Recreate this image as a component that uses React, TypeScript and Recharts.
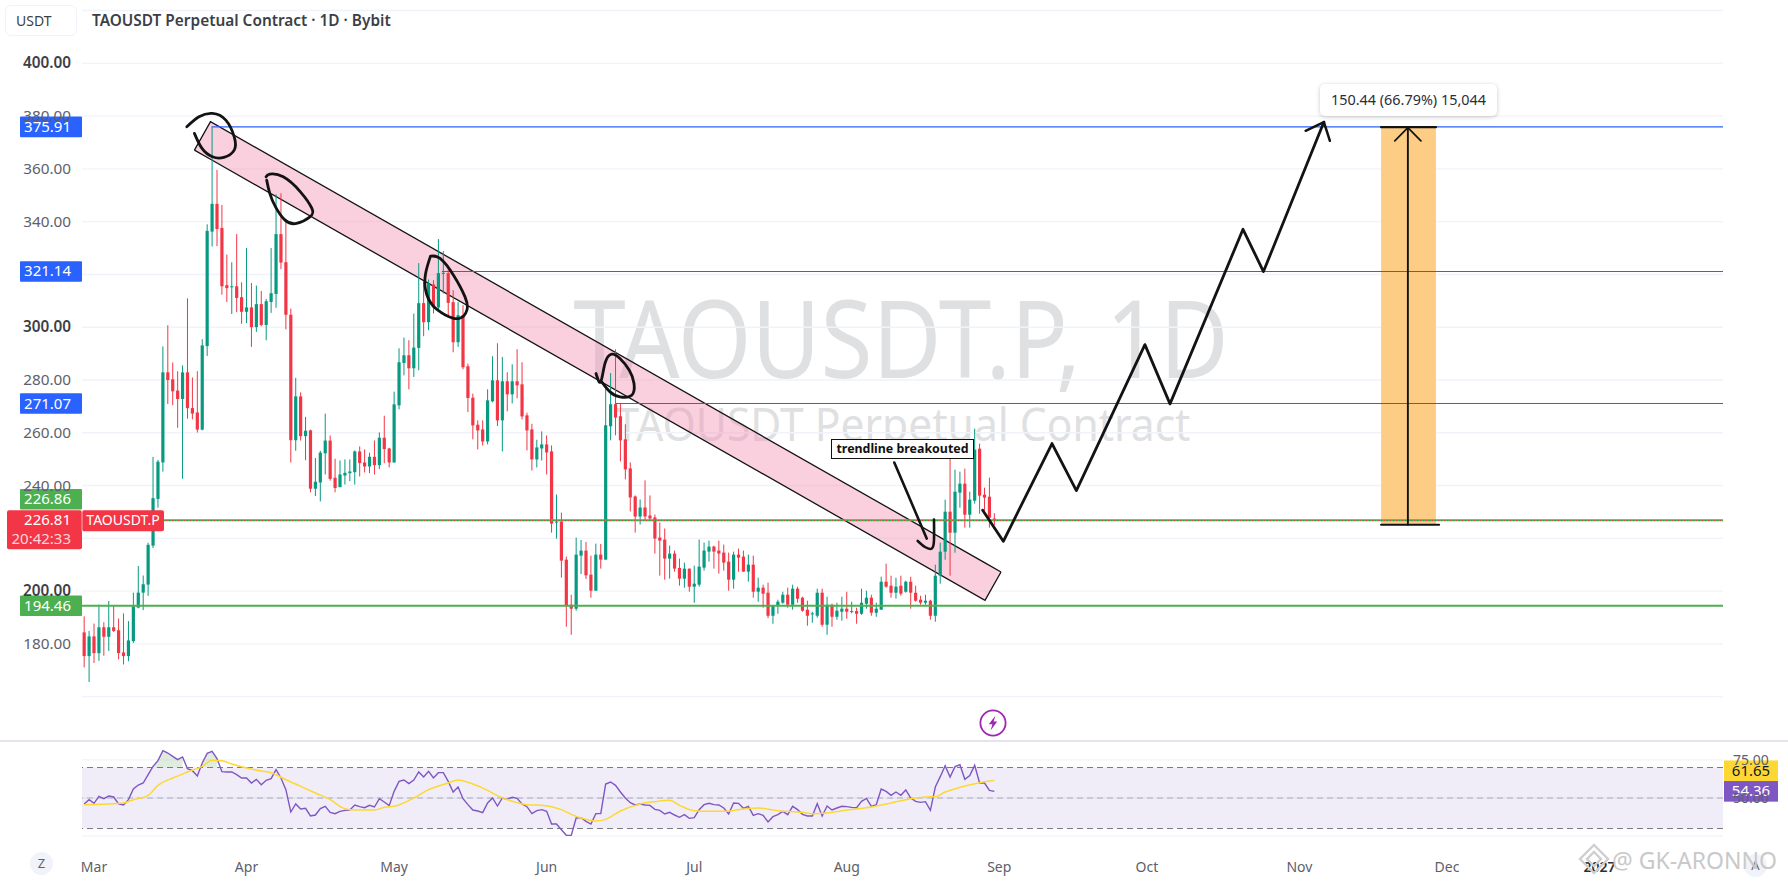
import React from "react";
import { ComposedChart, Bar, Line, Area, XAxis, YAxis, CartesianGrid, ReferenceLine, ReferenceArea } from "recharts";

const FONT = "'Noto Sans', sans-serif";
const UP = "#089981";
const DOWN = "#f23645";
const BLUE = "#2962ff";
const GREEN = "#4caf50";
const INK = "#131313";

const firstDay = -2; // candle 0 is two days before 1 March
const opens = [
  184.36,175.38,182.84,176.49,186.3,182.7,186.3,185.18,176.76,175.38,
  181.04,193.76,199.42,202.47,217.25,234.94,248.76,282.9,280.27,275.99,
  272.81,282.9,269.35,267.69,261.2,292.85,336.24,346.75,337.63,315.93,
  315.24,315.51,311.37,305.84,307.5,300.03,308.74,300.86,309.57,312.61,
  335.28,324.63,304.73,257.19,273.78,258.71,260.92,238.81,241.16,252.22,
  257.05,242.96,239.39,243.81,244.7,245.08,252.93,248.75,247.23,250.9,
  247.74,258.12,254.07,248.75,270.39,286.46,289.37,284.44,292.16,309.12,
  301.9,316.2,307.47,320.25,320.5,309.5,294.31,304.56,285.2,273.3,
  263.05,261.28,256.72,271.91,279.88,264.7,279.5,274.57,279.5,278.36,
  266.6,261.28,249.89,254.07,255.59,252.93,225.97,226.35,211.92,194.84,
  193.32,213.45,215.35,206.24,200.16,213.83,211.93,262.46,270.82,266.26,
  257.52,246.5,235.87,228.27,231.69,228.65,227.89,220.29,219.53,212.31,
  214.21,208.77,204.72,208.52,201.68,202.44,208.89,214.97,216.87,215.35,
  214.59,211.17,204.34,213.83,213.07,207.38,210.03,199.78,201.3,199.4,
  190.66,194.46,195.6,198.64,194.84,200.92,197.5,192.95,191.3,190.67,
  199.39,187.26,194.84,190.29,192.19,193.33,192.06,192.44,191.43,195.22,
  197.5,191.81,192.95,203.56,202.05,199.39,202.05,199.77,203.56,199.39,
  196.74,195.6,196.36,190.67,205.84,214.94,230.1,222.14,237.3,240.72,
  228.96,234.27,253.98,236.55,235.79,227.5,
];
const closes = [
  175.38,182.84,176.49,186.3,182.7,186.3,184.91,176.49,175.38,181.32,
  194.17,199.42,202.6,217.53,235.22,249.04,282.9,280.0,275.71,272.81,
  282.9,269.35,267.28,261.2,293.12,336.52,346.75,337.2,315.51,314.82,
  315.51,311.09,305.84,307.5,300.03,308.74,300.86,309.85,312.89,335.28,
  324.5,304.73,257.19,273.78,258.71,260.78,238.81,241.44,252.49,257.05,
  242.54,239.09,244.2,244.83,245.33,252.93,248.5,247.23,250.9,247.74,
  258.12,253.81,248.75,270.77,286.72,289.37,284.44,292.28,309.12,301.9,
  316.58,307.47,320.5,320.63,309.24,294.31,304.56,284.82,273.18,262.8,
  260.9,256.72,272.29,279.88,264.7,279.5,274.57,279.5,277.98,266.21,
  260.9,249.89,254.45,255.59,252.55,225.59,226.35,211.55,194.46,193.32,
  213.82,215.35,205.98,200.16,213.83,211.93,262.84,270.82,265.75,257.14,
  246.12,235.49,228.27,231.69,228.27,227.51,219.91,219.15,212.31,214.21,
  208.52,204.72,208.52,201.68,202.82,209.28,215.35,216.87,214.97,214.21,
  210.79,204.34,213.83,212.69,207.38,210.03,199.78,201.3,199.02,190.66,
  194.46,195.98,198.64,194.84,200.92,197.12,192.57,190.67,191.56,199.39,
  187.26,194.84,190.29,192.57,193.33,192.19,192.44,191.43,195.6,197.5,
  191.81,193.33,203.56,201.67,199.39,201.67,199.01,203.56,199.39,196.36,
  195.6,196.36,190.67,205.84,214.94,230.1,222.14,237.68,240.72,228.96,
  234.65,253.61,236.17,235.41,227.83,226.81,
];
const highs = [
  190.44,184.91,187.68,194.86,188.23,196.25,194.59,189.61,191.55,188.64,
  199.42,209.51,205.92,218.36,250.84,249.73,292.71,300.73,286.63,283.31,
  285.52,310.95,280.96,283.31,295.47,339.0,375.91,359.6,346.33,327.54,
  324.63,335.28,317.03,330.02,316.76,315.79,313.72,310.68,330.02,350.34,
  350.75,341.08,307.08,280.82,275.3,266.03,261.2,250.42,253.18,267.28,
  258.99,250.14,249.51,249.89,249.89,253.31,254.83,253.69,252.42,257.1,
  260.14,266.47,254.32,275.58,292.03,296.08,295.07,305.19,324.3,317.21,
  318.1,317.85,333.41,328.86,323.54,314.05,309.62,308.36,286.21,274.82,
  264.7,264.7,276.47,289.0,293.93,288.74,282.92,285.96,291.65,286.72,
  267.61,263.43,257.36,260.52,259.0,255.2,236.6,229.77,213.07,198.63,
  220.28,219.4,218.64,213.45,218.01,217.88,277.4,282.6,291.58,271.07,
  263.22,248.78,236.25,234.73,241.95,236.25,229.03,225.99,223.71,217.25,
  215.35,212.31,210.79,208.52,209.66,219.53,218.39,219.15,217.25,219.15,
  217.63,214.59,214.97,216.11,215.35,213.83,213.45,205.1,202.44,203.2,
  194.46,196.74,199.78,201.3,202.44,201.68,197.88,196.36,192.19,200.91,
  200.91,197.88,195.22,195.6,197.88,199.77,195.98,193.71,200.91,200.15,
  198.63,195.6,205.46,210.39,205.84,205.08,205.84,203.94,205.46,202.05,
  198.26,198.63,196.74,210.01,218.35,234.65,250.45,246.02,245.27,246.4,
  237.68,261.57,255.88,239.2,242.99,229.5,
];
const lows = [
  171.09,165.56,172.75,173.58,175.52,177.31,184.5,174.13,172.2,173.44,
  180.36,193.48,192.79,198.18,216.29,231.62,245.31,270.87,270.46,261.89,
  242.54,265.34,265.07,260.09,260.92,289.12,330.58,330.71,312.33,309.57,
  305.01,305.7,301.28,301.55,292.57,298.24,300.31,295.06,305.42,307.36,
  322.01,299.2,248.76,253.18,257.06,249.59,237.43,236.05,233.97,244.2,
  241.85,237.43,239.39,240.4,241.67,240.4,243.44,244.96,244.7,244.2,
  246.22,248.5,246.85,248.75,268.87,281.78,276.47,281.15,283.68,296.59,
  298.87,305.19,306.46,312.79,304.18,290.51,292.54,284.06,267.86,257.48,
  253.69,255.2,255.59,271.53,262.55,252.93,268.11,271.15,273.05,265.08,
  253.31,245.71,246.85,249.51,244.2,222.18,219.9,205.09,186.49,183.45,
  192.56,206.49,204.59,197.5,200.16,208.52,211.93,257.14,259.04,249.16,
  242.32,230.17,222.19,225.23,226.75,226.75,214.21,205.86,204.34,204.72,
  207.38,202.06,201.3,199.78,195.6,201.68,207.76,211.17,208.52,206.62,
  207.76,200.16,200.92,207.38,207.38,203.58,197.5,195.98,193.7,189.77,
  187.62,191.42,195.22,193.7,192.94,195.6,192.19,186.88,188.02,189.92,
  186.5,183.47,186.5,189.16,188.78,189.54,191.56,187.64,191.05,193.33,
  190.67,190.29,192.95,201.29,197.5,197.12,198.26,199.39,193.33,195.98,
  194.84,194.84,189.16,188.4,202.81,211.9,205.84,214.56,231.62,224.04,
  224.04,233.13,229.34,230.48,224.04,225.0,
];
const rsiValues = [
  46.07,48.91,46.5,51.09,49.56,51.31,50.66,46.07,45.41,48.91,
  55.9,58.53,59.84,65.3,70.77,74.48,81.04,79.51,77.33,75.14,
  76.89,69.24,67.93,64.43,72.95,79.29,80.6,75.8,67.27,67.05,
  67.05,65.3,63.12,63.12,59.84,62.24,58.74,61.59,62.68,68.58,
  63.12,55.47,40.82,46.07,42.79,43.22,38.2,38.85,43.0,44.54,
  40.6,39.73,41.26,41.91,42.13,45.41,44.32,43.66,45.19,44.1,
  49.56,47.38,44.97,54.37,60.93,61.8,59.4,61.8,67.05,63.77,
  67.49,63.12,66.61,66.61,60.93,53.93,57.21,49.56,45.63,42.13,
  41.47,40.38,46.72,50,44.75,50,49.13,50.44,49.78,46.07,
  44.32,39.73,41.69,42.35,41.26,32.95,32.95,29.23,25.52,25.52,
  36.88,37.1,34.7,32.95,39.73,39.73,59.18,60.49,58.31,53.93,
  50,46.94,45.41,46.07,45.41,45.19,42.57,41.91,39.51,40.6,
  38.85,37.32,39.07,36.67,37.1,42.35,45.63,46.5,45.63,45.41,
  43.44,39.51,46.72,46.5,43.22,44.54,38.63,39.73,38.63,34.26,
  37.76,39.07,41.26,39.07,44.54,42.35,39.29,38.2,38.2,46.28,
  38.2,44.75,42.13,43.44,44.54,44.32,43.88,43.66,47.81,49.78,
  44.54,45.63,55.9,54.37,51.75,53.93,51.75,55.25,50,47.81,
  47.16,47.6,41.91,57.21,63.99,71.2,63.77,70.55,71.86,62.24,
  64.65,71.42,59.84,59.84,55.03,54.36,
];
const maPoints = [
  [-2,45.63],[4,46.28],[6,46.72],[8,48.91],[11,51.75],[13,58.3],[16,63.12],[19,67.05],[22,70.77],[24,74.7],
  [26,74.48],[28,72.3],[31,69.67],[34,67.7],[36,66.61],[39,62.0],[42,57.65],[45,53.28],[48,48.9],[51,43.0],
  [53,42.13],[57,42.13],[59,43.88],[61,44.54],[65,50],[68,55.47],[72,59.84],[74,61.8],[77,59.18],[80,55.03],
  [82,51.53],[85,47.81],[88,45.63],[91,45.2],[92,44.97],[95,42.35],[97,39.29],[99,36.88],[102,34.92],[104,36.0],
  [107,41.47],[111,46.07],[114,47.6],[117,48.47],[119,45.19],[122,41.69],[125,41.26],[128,41.26],[131,42.35],[135,43.44],
  [139,41.69],[144,40.6],[146,39.73],[149,40.16],[152,41.69],[155,42.79],[158,44.1],[162,46.72],[166,49.56],[169,50.66],
  [171,50.87],[173,53.93],[176,57.0],[179,59.4],[183,61.65],
];

const monthTicks = [0, 31, 61, 92, 122, 153, 184, 214, 245, 275, 306];
const monthNames = ["Mar", "Apr", "May", "Jun", "Jul", "Aug", "Sep", "Oct", "Nov", "Dec", "2027"];
const priceTicks = [160, 180, 200, 220, 240, 260, 280, 300, 320, 340, 360, 380, 400, 420];
const hiddenPriceTicks = [160, 220, 320, 420];
const strongPriceTicks = [200, 300, 400];
const rsiTicks = [25, 50, 75];

const channelEdges = [
  [20.41, 367.13, 367.13],
  [23.68, 363.64, 377.86],
  [181.1, 196.51, 210.69],
  [184.35, 207.24, 207.24],
];
const circleOne = [[18.86,375.96],[21.34,379.75],[24.07,381.04],[26.79,378.5],[28.5,372.17],[28.5,367.13],[26.4,364.36],[24.07,364.59],[21.95,367.77],[20.41,373.46]];
const circleTwo = [[34.96,357.0],[35.73,358.03],[38.46,357.0],[41.95,351.32],[44.29,345.02],[43.9,341.84],[41.18,339.34],[38.84,340.59],[36.89,345.63],[35.73,350.71],[35.1,355.75]];
const circleThree = [[68.39,326.94],[70.35,326.07],[73.07,319.73],[75.41,311.51],[75.79,306.46],[74.23,303.32],[71.5,304.57],[68.8,308.36],[67.4,314.05],[67.4,320.38],[68.39,326.94]];
const circleFour = [[102.03,282.46],[102.99,279.28],[103.86,286.26],[105.22,289.78],[106.91,288.15],[108.8,283.72],[109.76,278.67],[109.29,274.23],[106.91,273.59],[104.88,275.49],[103.19,279.28]];
const breakoutArrow = [[162.66,248.72],[165.51,236.32],[169.25,219.91]];
const breakoutHook = [[167.42,218.99],[168.9,216.72],[170.26,216.11],[170.73,219.26],[170.73,227.11]];
const projection = [[180.63,230.64],[184.82,218.88],[194.72,255.92],[199.67,238.1],[213.6,293.42],[218.7,270.94],[233.54,337.1],[237.7,321.1],[249.98,377.74]];
const projectionHead = [[246.26,374.45],[249.98,377.74],[251.2,370.65]];
const targetShaft = [[267.05,225.13],[267.05,375.6]];
const targetHead = [[264.39,370.65],[267.05,375.6],[269.7,370.65]];
const targetBox = { d1: 261.6, d2: 272.76, low: 225.3, high: 375.8 };
const targetBottom = [[261.6,225.13],[273.4,225.13]];
const targetTop = [[261.6,375.8],[272.76,375.8]];
const resistanceLevels = [
  { price: 375.91, from: 23.9 },
  { price: 321.14, from: 70.7 },
  { price: 271.07, from: 105.9 },
];

const candles = opens.map((open, i) => ({
  day: firstDay + i,
  open,
  close: closes[i],
  high: highs[i],
  low: lows[i],
  range: [lows[i], highs[i]],
}));
const rsiRows = rsiValues.map((rsi, i) => ({
  day: firstDay + i,
  rsi,
  over: rsi > 70 ? [70, rsi] : null,
}));
const pts = (rows: number[][]) => rows.map(([day, price]) => ({ day, price }));
const maRows = maPoints.map(([day, ma]) => ({ day, ma }));
const channelRows = channelEdges.map(([day, lo, hi]) => ({ day, band: [lo, hi] }));

const X_DOMAIN = [-2.44, 331.1];
const PLOT_LEFT = 82;
const PLOT_RIGHT = 1723;

function CandleShape(props: any) {
  const { x, y, width, height, payload } = props;
  const cx = x + width / 2;
  const perUnit = height / (payload.high - payload.low || 1);
  const yOf = (v: number) => y + (payload.high - v) * perUnit;
  const up = payload.close >= payload.open;
  const colour = up ? UP : DOWN;
  const top = yOf(Math.max(payload.open, payload.close));
  const bottom = yOf(Math.min(payload.open, payload.close));
  return (
    <g>
      <line x1={cx} x2={cx} y1={y} y2={y + height} stroke={colour} strokeWidth={1} />
      <rect x={cx - 1.6} y={top} width={3.2} height={Math.max(bottom - top, 1)} fill={colour} />
    </g>
  );
}

function PriceTick(props: any) {
  const { y, payload } = props;
  if (hiddenPriceTicks.includes(payload.value)) return <g />;
  const strong = strongPriceTicks.includes(payload.value);
  return (
    <text x={71} y={y + 5} textAnchor="end" fontFamily={FONT} fontSize={15.3} fontWeight={strong ? 600 : 400} fill={strong ? "#3c3f46" : "#5d606b"}>
      {payload.value.toFixed(2)}
    </text>
  );
}

function LeftTag({ viewBox, text, colour, shift = 0 }: any) {
  const cy = viewBox.y + shift;
  return (
    <g>
      <rect x={20} y={cy - 10.3} width={PLOT_LEFT - 20} height={20.6} fill={colour} rx={1} />
      <text x={71} y={cy + 5} textAnchor="end" fontFamily={FONT} fontSize={15} fill="#fff">{text}</text>
    </g>
  );
}

function CurrentTag({ viewBox }: any) {
  const cy = viewBox.y;
  return (
    <g>
      <rect x={7} y={cy - 10} width={PLOT_LEFT - 7} height={39} fill={DOWN} rx={2} />
      <rect x={PLOT_LEFT} y={cy - 10} width={82} height={21} fill={DOWN} rx={2} />
      <line x1={PLOT_LEFT} x2={PLOT_LEFT} y1={cy - 10} y2={cy + 11} stroke="#ffffff" strokeOpacity={0.6} />
      <text x={71} y={cy + 5} textAnchor="end" fontFamily={FONT} fontSize={15} fill="#fff">226.81</text>
      <text x={71} y={cy + 24} textAnchor="end" fontFamily={FONT} fontSize={15} fill="#fcd5d9">20:42:33</text>
      <text x={123} y={cy + 5} textAnchor="middle" fontFamily={FONT} fontSize={14} fill="#fff">TAOUSDT.P</text>
    </g>
  );
}

function RsiTick(props: any) {
  const { y, payload } = props;
  if (payload.value === 25) return <g />;
  return (
    <text x={1751} y={y + 5} textAnchor="middle" fontFamily={FONT} fontSize={14} fill="#5d606b">{payload.value.toFixed(2)}</text>
  );
}

function RightTag({ viewBox, text, colour, ink, shift = 0 }: any) {
  const cy = viewBox.y + shift;
  return (
    <g>
      <rect x={PLOT_RIGHT + 1} y={cy - 10.3} width={54} height={20.6} fill={colour} />
      <text x={PLOT_RIGHT + 28} y={cy + 5} textAnchor="middle" fontFamily={FONT} fontSize={15} fill={ink}>{text}</text>
    </g>
  );
}

function MonthTick(props: any) {
  const { x, y, payload } = props;
  const name = monthNames[monthTicks.indexOf(payload.value)];
  const strong = name === "2027";
  return (
    <text x={x} y={y + 14} textAnchor="middle" fontFamily={FONT} fontSize={14} fontWeight={strong ? 600 : 400} fill={strong ? "#2a2e39" : "#5d606b"}>{name}</text>
  );
}

function InkLine({ rows, width = 2.2, type = "linear" }: any) {
  return (
    <Line data={pts(rows)} dataKey="price" type={type} stroke={INK} strokeWidth={width} dot={false} activeDot={false} legendType="none" isAnimationActive={false} strokeLinejoin="round" strokeLinecap="round" />
  );
}

export default function App() {
  return (
    <div style={{ position: "absolute", left: 0, top: 0, width: 1788, height: 881, background: "#fff", overflow: "hidden", fontFamily: FONT }}>
      {/* chart watermark, behind the candles */}
      <div style={{ position: "absolute", left: 0, top: 298, width: 1802, textAlign: "center", lineHeight: "78px", fontSize: 108, color: "#dfe0e2", whiteSpace: "nowrap", transform: "scaleX(0.875)" }}>TAOUSDT.P, 1D</div>
      <div style={{ position: "absolute", left: 0, top: 398, width: 1806, textAlign: "center", lineHeight: "50px", fontSize: 46, color: "#dfe0e2", whiteSpace: "nowrap", transform: "scaleX(0.925)" }}>TAOUSDT Perpetual Contract</div>

      <div style={{ position: "absolute", left: 0, top: 0 }}>
        <ComposedChart width={1788} height={741} data={candles} margin={{ top: 0, right: 65, bottom: 0, left: 0 }}>
          <CartesianGrid horizontal vertical={false} stroke="#f0f3fa" strokeWidth={1.4} horizontalValues={priceTicks} />
          <XAxis dataKey="day" type="number" domain={X_DOMAIN} allowDataOverflow hide ticks={monthTicks} />
          <YAxis type="number" domain={[143.2, 424]} allowDataOverflow ticks={priceTicks} width={82} tick={<PriceTick />} axisLine={false} tickLine={false} interval={0} />
          <ReferenceArea x1={targetBox.d1} x2={targetBox.d2} y1={targetBox.low} y2={targetBox.high} fill="#fdca80" fillOpacity={0.95} stroke="none" ifOverflow="visible" />
          <Area data={channelRows} dataKey="band" type="linear" stroke={INK} strokeWidth={1.3} fill="#f48fb1" fillOpacity={0.42} dot={false} activeDot={false} legendType="none" isAnimationActive={false} />
          {resistanceLevels.map((r) => (
            <ReferenceLine key={r.price} segment={[{ x: r.from, y: r.price }, { x: X_DOMAIN[1], y: r.price }]} stroke={BLUE} strokeWidth={1.1} />
          ))}
          <ReferenceLine y={226.86} stroke={GREEN} strokeWidth={2} />
          <ReferenceLine y={226.81} stroke={DOWN} strokeWidth={1} strokeDasharray="1 2" />
          <ReferenceLine y={194.46} stroke={GREEN} strokeWidth={2.2} />
          <Bar dataKey="range" barSize={4} shape={<CandleShape />} isAnimationActive={false} legendType="none" />
          <InkLine rows={circleOne} width={2.8} type="natural" />
          <InkLine rows={circleTwo} width={2.8} type="natural" />
          <InkLine rows={circleThree} width={2.8} type="natural" />
          <InkLine rows={circleFour} width={2.8} type="natural" />
          <InkLine rows={breakoutArrow} width={2.6} />
          <InkLine rows={breakoutHook} width={2.6} type="natural" />
          <InkLine rows={projection} width={2.8} />
          <InkLine rows={projectionHead} width={2.5} />
          <InkLine rows={targetShaft} width={1.9} />
          <InkLine rows={targetHead} width={1.7} />
          <InkLine rows={targetBottom} width={2} />
          <InkLine rows={targetTop} width={2.2} />
          <ReferenceLine y={375.91} stroke="none" label={(p: any) => <LeftTag {...p} text="375.91" colour={BLUE} />} />
          <ReferenceLine y={321.14} stroke="none" label={(p: any) => <LeftTag {...p} text="321.14" colour={BLUE} />} />
          <ReferenceLine y={271.07} stroke="none" label={(p: any) => <LeftTag {...p} text="271.07" colour={BLUE} />} />
          <ReferenceLine y={226.86} stroke="none" label={(p: any) => <LeftTag {...p} text="226.86" colour={GREEN} shift={-21} />} />
          <ReferenceLine y={226.81} stroke="none" label={(p: any) => <CurrentTag {...p} />} />
          <ReferenceLine y={194.46} stroke="none" label={(p: any) => <LeftTag {...p} text="194.46" colour={GREEN} />} />
        </ComposedChart>
      </div>

      <div style={{ position: "absolute", left: 0, top: 741 }}>
        <ComposedChart width={1788} height={140} data={rsiRows} margin={{ top: 0, right: 0, bottom: 0, left: PLOT_LEFT }}>
          <CartesianGrid horizontal vertical={false} stroke="#f0f3fa" strokeWidth={1.4} horizontalValues={rsiTicks} />
          <XAxis dataKey="day" type="number" domain={X_DOMAIN} allowDataOverflow ticks={monthTicks} interval={0} height={31} axisLine={false} tickLine={false} tick={<MonthTick />} />
          <YAxis orientation="right" type="number" domain={[15.9, 87.38]} allowDataOverflow ticks={rsiTicks} width={65} axisLine={false} tickLine={false} tick={<RsiTick />} interval={0} />
          <ReferenceArea y1={30} y2={70} fill="#7e57c2" fillOpacity={0.11} stroke="none" />
          <ReferenceLine y={70} stroke="#787b86" strokeDasharray="6 4" strokeWidth={1} />
          <ReferenceLine y={50} stroke="#787b86" strokeOpacity={0.55} strokeDasharray="6 4" strokeWidth={1} />
          <ReferenceLine y={30} stroke="#787b86" strokeDasharray="6 4" strokeWidth={1} />
          <Area dataKey="over" type="linear" stroke="none" fill="#a5c9a0" fillOpacity={0.35} dot={false} activeDot={false} legendType="none" isAnimationActive={false} connectNulls={false} />
          <Line dataKey="rsi" type="linear" stroke="#7e57c2" strokeWidth={1.4} dot={false} activeDot={false} legendType="none" isAnimationActive={false} />
          <Line data={maRows} dataKey="ma" type="monotone" stroke="#fdd835" strokeWidth={1.5} dot={false} activeDot={false} legendType="none" isAnimationActive={false} />
          <ReferenceLine y={61.65} stroke="none" label={(p: any) => <RightTag {...p} text="61.65" colour="#fdd835" ink="#131722" shift={-9.5} />} />
          <ReferenceLine y={54.36} stroke="none" label={(p: any) => <RightTag {...p} text="54.36" colour="#7e57c2" ink="#fff" />} />
        </ComposedChart>
      </div>

      {/* pane separator */}
      <div style={{ position: "absolute", left: 0, top: 740, width: 1788, height: 1.5, background: "#e4e3ee" }} />

      {/* header */}
      <div style={{ position: "absolute", left: 5, top: 5, width: 72, height: 31, border: "1px solid #f0f3fa", borderRadius: 6, boxSizing: "border-box", fontSize: 14, lineHeight: "30px", paddingLeft: 10, color: "#3c3f46" }}>USDT</div>
      <div style={{ position: "absolute", left: 92, top: 10, fontSize: 15.4, fontWeight: 600, lineHeight: "22px", color: "#3c3f46", whiteSpace: "nowrap" }}>TAOUSDT Perpetual Contract · 1D · Bybit</div>

      {/* drawing captions */}
      <div style={{ position: "absolute", left: 831, top: 439, width: 143, height: 20, boxSizing: "border-box", border: "1.5px solid #111", background: "#fff", fontSize: 12.4, fontWeight: 700, lineHeight: "17px", textAlign: "center", color: "#111", whiteSpace: "nowrap" }}>trendline breakouted</div>
      <div style={{ position: "absolute", left: 1320, top: 84, width: 177, height: 32, borderRadius: 5, background: "#fff", boxShadow: "0 1px 4px rgba(0,0,0,0.22)", fontSize: 14.4, lineHeight: "32px", textAlign: "center", color: "#2a2e39", whiteSpace: "nowrap" }}>150.44 (66.79%) 15,044</div>

      {/* event marker */}
      <svg style={{ position: "absolute", left: 979, top: 709 }} width={28} height={28} viewBox="0 0 28 28">
        <circle cx={14} cy={14} r={12.6} fill="#fff" stroke="#9c27b0" strokeWidth={1.8} />
        <path d="M16.5 6.5 L9.8 15.2 L13.4 15.2 L11.6 21.5 L18.2 12.6 L14.6 12.6 Z" fill="#9c27b0" />
      </svg>

      {/* scale buttons */}
      <div style={{ position: "absolute", left: 30, top: 852, width: 23, height: 23, borderRadius: "50%", background: "#f0f3fa", fontSize: 13, lineHeight: "23px", textAlign: "center", color: "#5d606b" }}>Z</div>
      <div style={{ position: "absolute", left: 1744, top: 854, width: 23, height: 23, borderRadius: "50%", background: "#f0f3fa", fontSize: 13, lineHeight: "23px", textAlign: "center", color: "#5d606b" }}>A</div>

      {/* publisher mark */}
      <svg style={{ position: "absolute", left: 1577, top: 842 }} width={34} height={34} viewBox="0 0 34 34">
        <path d="M17 3 L31 17 L17 31 L3 17 Z M17 10 L24 17 L17 24 L10 17 Z" fill="none" stroke="#cfcfcf" strokeWidth={2.4} />
      </svg>
      <div style={{ position: "absolute", left: 1612, top: 845, fontSize: 23, lineHeight: "30px", color: "#c9c9c9", whiteSpace: "nowrap" }}>@ GK-ARONNO</div>
    </div>
  );
}
